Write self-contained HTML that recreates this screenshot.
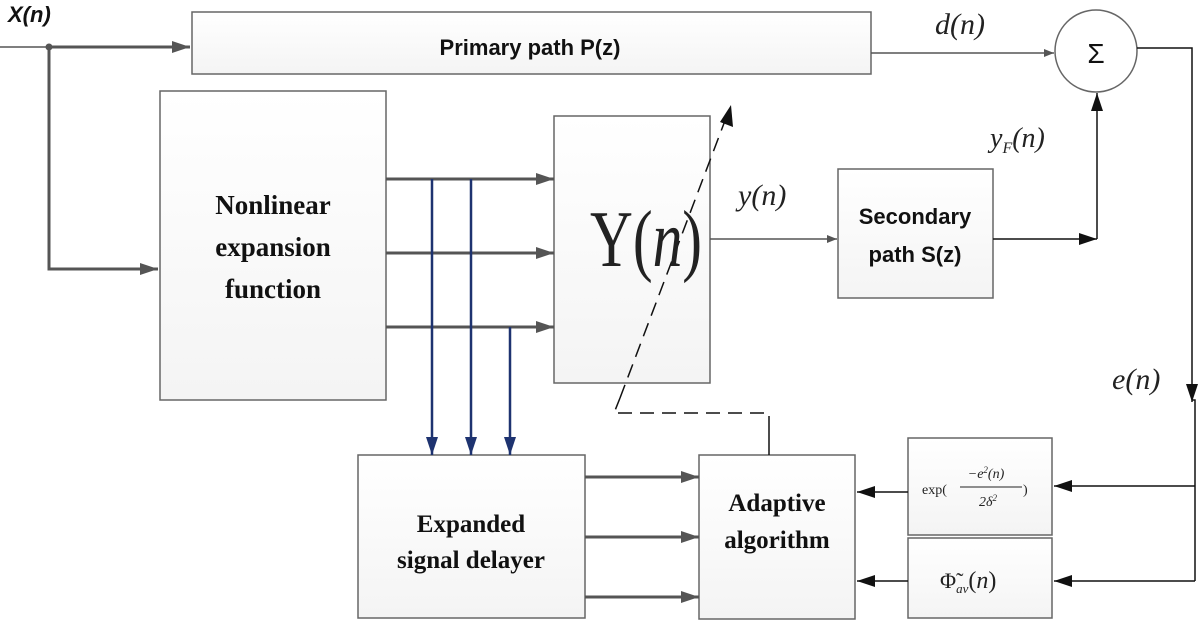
<!DOCTYPE html>
<html><head><meta charset="utf-8"><style>
html,body{margin:0;padding:0;background:#fff;}
svg{display:block;}
.b{font-family:"Liberation Serif",serif;font-weight:bold;font-size:27px;fill:#111;}
.s{font-family:"Liberation Sans",sans-serif;font-weight:bold;fill:#111;}
.i{font-family:"Liberation Serif",serif;font-style:italic;fill:#222;}
.r{font-family:"Liberation Serif",serif;fill:#222;}
</style></head><body>
<svg width="1200" height="624" viewBox="0 0 1200 624" xmlns="http://www.w3.org/2000/svg">
<defs>
<linearGradient id="g" x1="0" y1="0" x2="0" y2="1"><stop offset="0" stop-color="#fff"/><stop offset="1" stop-color="#f4f4f4"/></linearGradient>
<marker id="a" markerWidth="10" markerHeight="8" refX="10" refY="4" orient="auto" markerUnits="userSpaceOnUse"><path d="M0,0 L10,4 L0,8 z" fill="#555"/></marker>
<marker id="ab" markerWidth="18" markerHeight="12" refX="18" refY="6" orient="auto" markerUnits="userSpaceOnUse"><path d="M0,0 L18,6 L0,12 z" fill="#555"/></marker>
<marker id="ak" markerWidth="18" markerHeight="12" refX="18" refY="6" orient="auto" markerUnits="userSpaceOnUse"><path d="M0,0 L18,6 L0,12 z" fill="#111"/></marker>
<marker id="au" markerWidth="18" markerHeight="12" refX="18" refY="6" orient="auto" markerUnits="userSpaceOnUse"><path d="M0,0 L18,6 L0,12 z" fill="#1e3370"/></marker>
</defs>
<g fill="url(#g)" stroke="#666" stroke-width="1.5">
<rect x="192" y="12" width="679" height="62"/>
<rect x="160" y="91" width="226" height="309"/>
<rect x="554" y="116" width="156" height="267"/>
<rect x="838" y="169" width="155" height="129"/>
<rect x="358" y="455" width="227" height="163"/>
<rect x="699" y="455" width="156" height="164"/>
<rect x="908" y="438" width="144" height="97"/>
<rect x="908" y="538" width="144" height="80"/>
</g>
<circle cx="1096" cy="51" r="41" fill="#fff" stroke="#666" stroke-width="1.5"/>
<text x="1096" y="63" text-anchor="middle" class="s" style="font-size:28px;font-weight:normal">Σ</text>
<g stroke="#555" stroke-width="3" fill="none">
<line x1="0" y1="47" x2="190" y2="47" stroke-width="1.5"/>
<line x1="49" y1="47" x2="190" y2="47" marker-end="url(#ab)"/>
<polyline points="49,47 49,269 158,269" marker-end="url(#ab)"/>
<line x1="386" y1="179" x2="554" y2="179" marker-end="url(#ab)"/>
<line x1="386" y1="253" x2="554" y2="253" marker-end="url(#ab)"/>
<line x1="386" y1="327" x2="554" y2="327" marker-end="url(#ab)"/>
<line x1="585" y1="477" x2="699" y2="477" marker-end="url(#ab)"/>
<line x1="585" y1="537" x2="699" y2="537" marker-end="url(#ab)"/>
<line x1="585" y1="597" x2="699" y2="597" marker-end="url(#ab)"/>
</g>
<circle cx="49" cy="47" r="3.5" fill="#555"/>
<g stroke="#555" stroke-width="1.5" fill="none">
<line x1="871" y1="53" x2="1054" y2="53" marker-end="url(#a)"/>
<line x1="710" y1="239" x2="837" y2="239" marker-end="url(#a)"/>
</g>
<g stroke="#111" stroke-width="1.5" fill="none">
<polyline points="993,239 1097,239" marker-end="url(#ak)"/>
<polyline points="1097,239 1097,93" marker-end="url(#ak)"/>
<polyline points="1137,48 1192,48 1192,402" marker-end="url(#ak)"/>
<polyline points="1192,400 1195,400 1195,581"/>
<line x1="1195" y1="486" x2="1054" y2="486" marker-end="url(#ak)"/>
<line x1="1195" y1="581" x2="1054" y2="581" marker-end="url(#ak)"/>
<line x1="908" y1="492" x2="857" y2="492" marker-end="url(#ak)"/>
<line x1="908" y1="581" x2="857" y2="581" marker-end="url(#ak)"/>
<line x1="769" y1="455" x2="769" y2="430"/>
<polyline points="769,430 769,413 614,413 620,398" stroke-dasharray="14,8"/>
<line x1="620" y1="398" x2="726" y2="118" stroke-dasharray="14,8"/>
</g>
<path d="M731,105 L733,127 L720,122 z" fill="#111"/>
<g stroke="#1e3370" stroke-width="2.5">
<line x1="432" y1="179" x2="432" y2="455" marker-end="url(#au)"/>
<line x1="471" y1="179" x2="471" y2="455" marker-end="url(#au)"/>
<line x1="510" y1="327" x2="510" y2="455" marker-end="url(#au)"/>
</g>
<text x="8" y="22" class="s" style="font-size:22px;font-style:italic">X(n)</text>
<text x="530" y="55" text-anchor="middle" class="s" style="font-size:22px">Primary path  P(z)</text>
<text x="273" y="214" text-anchor="middle" class="b">Nonlinear</text>
<text x="273" y="256" text-anchor="middle" class="b">expansion</text>
<text x="273" y="298" text-anchor="middle" class="b">function</text>
<text x="590" y="266" class="r" style="font-size:80px" textLength="112" lengthAdjust="spacingAndGlyphs">Υ(<tspan class="i">n</tspan>)</text>
<text x="738" y="205" class="i" style="font-size:30px">y<tspan class="r">(</tspan>n<tspan class="r">)</tspan></text>
<text x="935" y="34" class="i" style="font-size:30px">d<tspan class="r">(</tspan>n<tspan class="r">)</tspan></text>
<text x="990" y="147" class="i" style="font-size:28px">y<tspan font-size="16" dy="6">F</tspan><tspan dy="-6" class="r">(</tspan>n<tspan class="r">)</tspan></text>
<text x="1112" y="389" class="i" style="font-size:30px">e<tspan class="r">(</tspan>n<tspan class="r">)</tspan></text>
<text x="915" y="224" text-anchor="middle" class="s" style="font-size:22px">Secondary</text>
<text x="915" y="262" text-anchor="middle" class="s" style="font-size:22px">path S(z)</text>
<text x="471" y="532" text-anchor="middle" class="b" style="font-size:25px">Expanded</text>
<text x="471" y="568" text-anchor="middle" class="b" style="font-size:25px">signal delayer</text>
<text x="777" y="511" text-anchor="middle" class="b" style="font-size:25px">Adaptive</text>
<text x="777" y="548" text-anchor="middle" class="b" style="font-size:25px">algorithm</text>
<text x="922" y="494" class="r" style="font-size:14px">exp(</text>
<text x="986" y="478" text-anchor="middle" class="i" style="font-size:14px">−e<tspan font-size="9" dy="-5">2</tspan><tspan dy="5">(n)</tspan></text>
<line x1="960" y1="487" x2="1022" y2="487" stroke="#222" stroke-width="1"/>
<text x="988" y="506" text-anchor="middle" class="i" style="font-size:14px">2δ<tspan font-size="9" dy="-5">2</tspan></text>
<text x="1023" y="494" class="r" style="font-size:14px">)</text>
<text x="940" y="588" class="r" style="font-size:22px">Φ̃<tspan class="i" font-size="13" dy="5">av</tspan><tspan dy="-5" font-size="24">(</tspan><tspan class="i" font-size="24">n</tspan><tspan font-size="24">)</tspan></text>
</svg>
</body></html>
